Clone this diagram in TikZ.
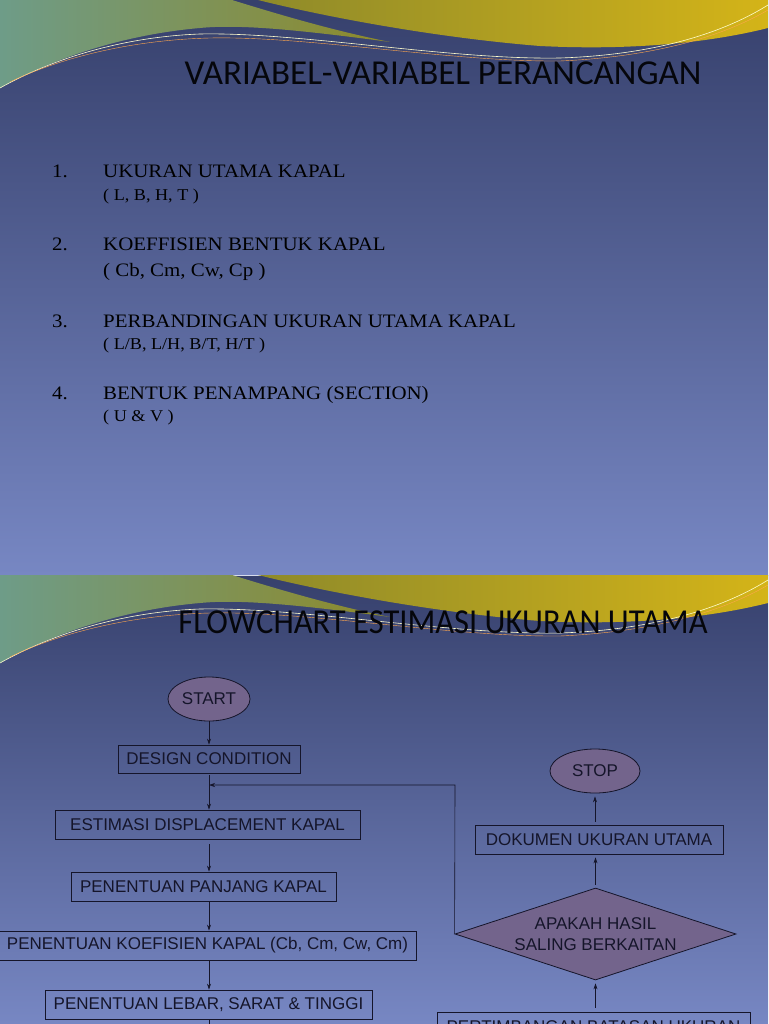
\documentclass[tikz,border=0pt]{standalone}
\usepackage{fontspec}
\setmainfont{Liberation Serif}
\newfontfamily\calfont{Carlito}
\newfontfamily\helfont{Liberation Sans}
\usetikzlibrary{shapes.geometric,arrows.meta}
\definecolor{bgtop}{HTML}{36406C}
\definecolor{bgbot}{HTML}{7787C3}
\definecolor{olive}{HTML}{8E8A2A}
\definecolor{yel}{HTML}{D4B418}
\definecolor{teal}{HTML}{6E9C88}
\definecolor{nodefill}{HTML}{73648C}
\definecolor{ink}{HTML}{15152A}
\tikzset{
  box/.style={draw=ink,line width=0.8pt,fill=none,inner sep=0pt,font=\helfont\fontsize{17}{17}\selectfont,text=ink},
  term/.style={ellipse,draw=ink,line width=0.8pt,fill=nodefill,inner sep=0pt,font=\helfont\fontsize{17}{17}\selectfont,text=ink},
  dec/.style={diamond,draw=ink,line width=0.8pt,fill=nodefill,inner sep=0pt,aspect=3,font=\helfont\fontsize{17}{21}\selectfont,text=ink,align=center},
  arr/.style={-{Stealth[length=6pt,width=4pt]},line width=0.6pt,draw=ink},
  ttl/.style={font=\calfont\fontsize{35}{35}\selectfont,text=black!90!bgtop,anchor=center},
  itm/.style={font=\fontsize{19}{19}\selectfont,text=black,anchor=base west,inner sep=0pt},
  sub/.style={font=\fontsize{16.5}{16.5}\selectfont,text=black,anchor=base west,inner sep=0pt}
}
\newcommand{\sx}[1]{\scalebox{1.1}[1]{#1}}
\newcommand{\banner}[1]{%
 \begin{scope}[yshift=#1]
  \shade[left color=teal,right color=olive] (0,0) -- (232,0) .. controls (290,-18) and (340,-32) .. (390,-42) .. controls (300,-30) and (240,-24) .. (200,-28) .. controls (120,-35) and (50,-60) .. (0,-88) -- cycle;
  \shade[left color=olive,right color=yel] (258,0) -- (768,0) -- (768,-28) .. controls (700,-45) and (620,-50) .. (540,-46) .. controls (440,-38) and (330,-18) .. (258,0) -- cycle;
  \draw[white!80!yellow,line width=0.6pt] (0,-88) .. controls (50,-60) and (120,-37) .. (200,-34) .. controls (300,-32) and (450,-60) .. (560,-58) .. controls (650,-55) and (720,-35) .. (768,-5);
  \draw[orange!70,line width=0.4pt] (10,-82) .. controls (60,-58) and (130,-40) .. (210,-38) .. controls (310,-36) and (450,-62) .. (560,-61) .. controls (650,-57) and (720,-38) .. (768,-10);
 \end{scope}}
\begin{document}
\begin{tikzpicture}[x=1pt,y=-1pt]
\useasboundingbox (0,0) rectangle (768,1024);
\clip (0,0) rectangle (768,1024);
\shade[top color=bgtop,bottom color=bgbot] (0,0) rectangle (768,575);
\shade[top color=bgtop,bottom color=bgbot] (0,575) rectangle (768,1024);
\draw[white!70!bgbot,line width=1pt] (0,575) -- (768,575);
\begin{scope}[y=1pt]
\banner{0pt}
\banner{-575pt}
\end{scope}
% slide 1
\node[ttl] (t1) at (443,73) {VARIABEL-VARIABEL PERANCANGAN};
\node[itm] (n1) at (52,178) {\sx{1.}};
\node[itm] (a1) at (103,178) {\sx{UKURAN UTAMA KAPAL}};
\node[sub] (b1) at (103,201) {\sx{( L, B, H, T )}};
\node[itm] (n2) at (52,250) {\sx{2.}};
\node[itm] (a2) at (103,250) {\sx{KOEFFISIEN BENTUK KAPAL}};
\node[itm] (b2) at (103,276) {\sx{( Cb, Cm, Cw, Cp )}};
\node[itm] (n3) at (52,327) {\sx{3.}};
\node[itm] (a3) at (103,327) {\sx{PERBANDINGAN UKURAN UTAMA KAPAL}};
\node[sub] (b3) at (103,349) {\sx{( L/B, L/H, B/T, H/T )}};
\node[itm] (n4) at (52,399) {\sx{4.}};
\node[itm] (a4) at (103,399) {\sx{BENTUK PENAMPANG (SECTION)}};
\node[sub] (b4) at (103,421) {\sx{( U \& V )}};
% slide 2
\node[ttl] (t2) at (443,622) {\scalebox{0.93}[1]{FLOWCHART ESTIMASI UKURAN UTAMA}};
\node[term,minimum width=82pt,minimum height=44pt] (start) at (209,699) {START};
\node[box,minimum width=182pt,minimum height=28pt] (dc) at (209,759) {DESIGN CONDITION};
\node[box,minimum width=305pt,minimum height=29pt] (ed) at (207.5,824.5) {ESTIMASI DISPLACEMENT KAPAL};
\node[box,minimum width=265pt,minimum height=29pt] (pp) at (203.5,886.5) {PENENTUAN PANJANG KAPAL};
\node[box,minimum width=417pt,minimum height=29pt] (pk) at (207.5,945.5) {PENENTUAN KOEFISIEN KAPAL (Cb, Cm, Cw, Cm)};
\node[box,minimum width=327pt,minimum height=29pt] (pl) at (208.5,1004.5) {PENENTUAN LEBAR, SARAT \& TINGGI};
\node[term,minimum width=90pt,minimum height=44pt] (stop) at (595,771) {STOP};
\node[box,minimum width=248pt,minimum height=29pt] (dok) at (599,839.5) {DOKUMEN UKURAN UTAMA};
\node[dec,minimum width=281pt,minimum height=92pt] (dia) at (595.5,934) {APAKAH HASIL\\SALING BERKAITAN};
\node[box,minimum width=313pt,minimum height=30pt] (pb) at (593.5,1027) {PERTIMBANGAN BATASAN UKURAN};
\coordinate (j) at (209,785);
\coordinate (jr) at (455,785);
\coordinate (pend) at (209,1030);
\draw[arr] (start) -- (dc);
\draw[line width=0.6pt,draw=ink] ([yshift=-2pt]dc.south) -- (j);
\draw[arr] (j) -- (ed.north -| j);
\draw[arr] (dia.west) -- (jr) -- (j);
\draw[arr,shorten <=5pt] (ed.south -| j) -- (pp.north -| j);
\draw[arr] (pp.south -| j) -- (pk.north -| j);
\draw[arr] (pk.south -| j) -- (pl.north -| j);
\draw[line width=0.6pt,draw=ink] (pl.south -| j) -- (pend);
\draw[arr,shorten <=4pt,shorten >=3pt] (pb.north -| dia) -- (dia.south);
\draw[arr,shorten <=3pt,shorten >=3pt] (dia.north) -- (dok.south -| dia);
\draw[arr,shorten <=3pt,shorten >=3pt] (dok.north -| stop) -- (stop.south);
\end{tikzpicture}
\end{document}
